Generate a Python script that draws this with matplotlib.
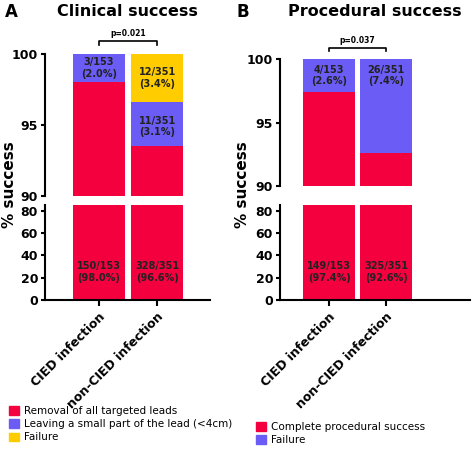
import matplotlib
matplotlib.use("Agg")
import matplotlib.pyplot as plt

cats = ["CIED infection", "non-CIED infection"]
a_removal = [98.0, 93.5]
a_small = [2.0, 3.1]
a_fail = [0.0, 3.4]
a_lab_small = ["3/153\n(2.0%)", "11/351\n(3.1%)"]
a_lab_fail = ["", "12/351\n(3.4%)"]
a_lab_rem = ["150/153\n(98.0%)", "328/351\n(96.6%)"]
b_success = [97.4, 92.6]
b_fail = [2.6, 7.4]
b_lab_fail = ["4/153\n(2.6%)", "26/351\n(7.4%)"]
b_lab_succ = ["149/153\n(97.4%)", "325/351\n(92.6%)"]

RED, BLUE, YEL = "#F5003F", "#6B5CF6", "#FFCC00"
W, H = 474, 453
fig = plt.figure(figsize=(W/100, H/100), dpi=100)

def ax_px(x0, y0, x1, y1):
    return fig.add_axes([x0/W, 1-y1/H, (x1-x0)/W, (y1-y0)/H])

def style(ax, bottom):
    for s in ["top", "right"]:
        ax.spines[s].set_visible(False)
    ax.spines["left"].set_linewidth(1.5)
    ax.tick_params(axis="y", labelsize=9, width=1.5, length=3, pad=2)
    for t in ax.get_yticklabels():
        t.set_fontweight("bold")
    if bottom:
        ax.spines["bottom"].set_linewidth(1.5)
    else:
        ax.spines["bottom"].set_visible(False)
        ax.set_xticks([])

def panel(x0, x1, ytop, ybot, xlim, stacks, labels_top, labels_bot, title, letter, lx, ylx, pval):
    axt = ax_px(x0, ytop, x1, ybot)
    axb = ax_px(x0, 205, x1, 300)
    xs = [0, 1]
    for axx in (axt, axb):
        bottom = [0, 0]
        for vals, col in stacks:
            axx.bar(xs, vals, bottom=bottom, color=col, width=0.9)
            bottom = [b+v for b, v in zip(bottom, vals)]
        axx.set_xlim(*xlim)
    axt.set_ylim(90, 100)
    axt.set_yticks([90, 95, 100])
    axb.set_ylim(0, 85)
    axb.set_yticks([0, 20, 40, 60, 80])
    style(axt, False)
    style(axb, True)
    axb.set_xticks(xs)
    axb.set_xticklabels(cats, rotation=45, ha="right", rotation_mode="anchor",
                        fontsize=9, fontweight="bold")
    axb.tick_params(axis="x", width=1.5, length=4)
    for txt, ypos in labels_top:
        for i, t in enumerate(txt):
            if t:
                axt.text(i, ypos[i], t, ha="center", va="center", fontsize=7,
                         fontweight="bold", color="#222222")
    for i, t in enumerate(labels_bot):
        axb.text(i, 25, t, ha="center", va="center", fontsize=7,
                 fontweight="bold", color="#222222")
    fig.text((x0+x1)/2/W, 1-12/H, title, ha="center", va="center",
             fontsize=11.5, fontweight="bold")
    fig.text(lx/W, 1-12/H, letter, ha="left", va="center", fontsize=12, fontweight="bold")
    fig.text(ylx/W, 1-185/H, "% success", rotation=90, ha="center", va="center",
             fontsize=11, fontweight="bold")
    axt.plot([0, 0, 1, 1], [100.6, 100.9, 100.9, 100.6], color="black", lw=1.2, clip_on=False)
    axt.text(0.5, 101.1, pval, ha="center", va="bottom", fontsize=5.5, fontweight="bold")

panel(45, 210, 54, 196, (-0.93, 1.91),
      [(a_removal, RED), (a_small, BLUE), (a_fail, YEL)],
      [(a_lab_small, [99.0, 94.9]), (a_lab_fail, [0, 98.3])],
      a_lab_rem, "Clinical success", "A", 5, 10, "p=0.021")
panel(280, 470, 59, 186, (-0.86, 2.47),
      [(b_success, RED), (b_fail, BLUE)],
      [(b_lab_fail, [98.7, 98.7])],
      b_lab_succ, "Procedural success", "B", 237, 243, "p=0.037")

from matplotlib.patches import Patch
fig.legend(handles=[Patch(color=RED, label="Removal of all targeted leads"),
                    Patch(color=BLUE, label="Leaving a small part of the lead (<4cm)"),
                    Patch(color=YEL, label="Failure")],
           loc="upper left", bbox_to_anchor=(5/W, 1-402/H), frameon=False,
           fontsize=7.5, handlelength=0.9, handleheight=0.9, labelspacing=0.3,
           handletextpad=0.5, borderaxespad=0)
fig.legend(handles=[Patch(color=RED, label="Complete procedural success"),
                    Patch(color=BLUE, label="Failure")],
           loc="upper left", bbox_to_anchor=(252/W, 1-418/H), frameon=False,
           fontsize=7.5, handlelength=0.9, handleheight=0.9, labelspacing=0.3,
           handletextpad=0.5, borderaxespad=0)
fig.savefig("out.png", dpi=100)
